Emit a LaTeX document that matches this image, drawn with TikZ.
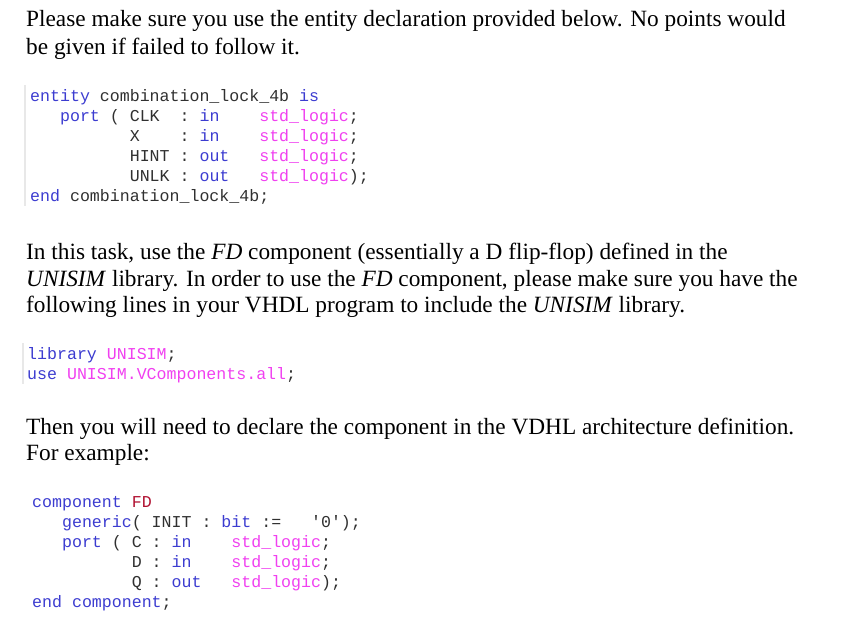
\documentclass[tikz,border=0pt]{standalone}
\usepackage{fontspec}
\setmainfont{Liberation Serif}
\setmonofont{Liberation Mono}
\definecolor{kw}{HTML}{3C3CD0}
\definecolor{ty}{HTML}{F040F0}
\definecolor{idc}{HTML}{303030}
\definecolor{fdc}{HTML}{B01030}
\newcommand{\K}[1]{\textcolor{kw}{#1}}
\newcommand{\T}[1]{\textcolor{ty}{#1}}
\begin{document}
\begin{tikzpicture}[x=1pt,y=-1pt,
  body/.style={anchor=base west,inner sep=0pt,font=\fontsize{23.3}{27}\selectfont},
  code/.style={anchor=base west,inner sep=0pt,font=\fontsize{16.6}{20}\ttfamily\selectfont,text=idc},
  bar/.style={draw=black!9,line width=1.5pt}]
\useasboundingbox (0,0) rectangle (851,637);
\node[body] (p1) at (26,27) {Please make sure you use the entity declaration provided below. No points would};
\node[body] (p2) at (26,54) {be given if failed to follow it.};
\draw[bar] (25,85) -- (25,206);
\node[code] (c1) at (30,101) {\K{entity} combination\_lock\_4b \K{is}};
\node[code] (c2) at (30,121) {\ \ \ \K{port} ( CLK \ : \K{in} \ \ \ \T{std\_logic};};
\node[code] (c3) at (30,141) {\ \ \ \ \ \ \ \ \ \ X \ \ \ : \K{in} \ \ \ \T{std\_logic};};
\node[code] (c4) at (30,161) {\ \ \ \ \ \ \ \ \ \ HINT : \K{out} \ \ \T{std\_logic};};
\node[code] (c5) at (30,181) {\ \ \ \ \ \ \ \ \ \ UNLK : \K{out} \ \ \T{std\_logic});};
\node[code] (c6) at (30,201) {\K{end} combination\_lock\_4b;};
\node[body] (q1) at (26,259) {In this task, use the \textit{FD} component (essentially a D flip-flop) defined in the};
\node[body] (q2) at (26,286) {\textit{UNISIM} library. In order to use the \textit{FD} component, please make sure you have the};
\node[body] (q3) at (26,312) {following lines in your VHDL program to include the \textit{UNISIM} library.};
\draw[bar] (23,343) -- (23,384);
\node[code] (l1) at (27,359) {\K{library} \T{UNISIM};};
\node[code] (l2) at (27,379) {\K{use} \T{UNISIM.VComponents.all};};
\node[body] (r1) at (26,434) {Then you will need to declare the component in the VDHL architecture definition.};
\node[body] (r2) at (26,460) {For example:};
\node[code] (d1) at (32,507) {\K{component} \textcolor{fdc}{FD}};
\node[code] (d2) at (32,527) {\ \ \ \K{generic}( INIT : \K{bit} := \ \ '0');};
\node[code] (d3) at (32,547) {\ \ \ \K{port} ( C : \K{in} \ \ \ \T{std\_logic};};
\node[code] (d4) at (32,567) {\ \ \ \ \ \ \ \ \ \ D : \K{in} \ \ \ \T{std\_logic};};
\node[code] (d5) at (32,587) {\ \ \ \ \ \ \ \ \ \ Q : \K{out} \ \ \T{std\_logic});};
\node[code] (d6) at (32,607) {\K{end} \K{component};};
\end{tikzpicture}
\end{document}
